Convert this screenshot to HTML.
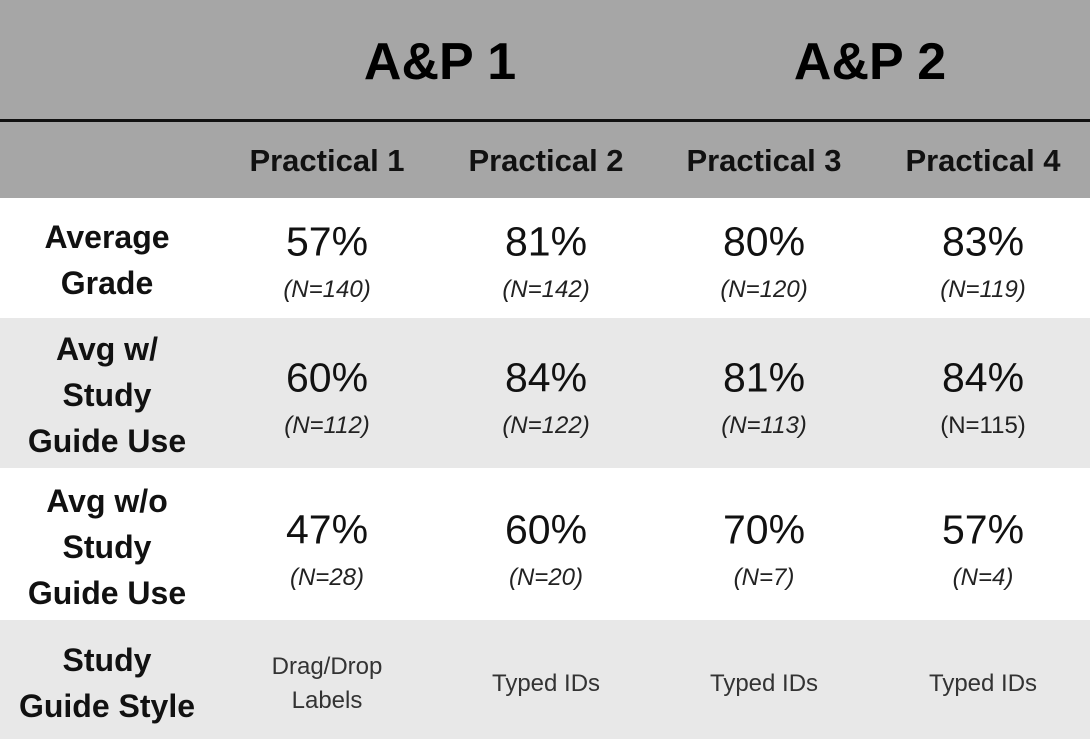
<!DOCTYPE html>
<html><head><meta charset="utf-8"><style>
body{margin:0;width:1090px;height:739px;overflow:hidden;background:#fff;font-family:"Liberation Sans",sans-serif;position:relative}
.b{position:absolute;left:0;width:1090px}
.t{position:absolute;transform:translate(-50%,-50%);white-space:nowrap;text-align:center;color:#111}
.h1{font-weight:bold;font-size:52px;color:#000}
.h2{font-weight:bold;font-size:31px;color:#111}
.lb{font-weight:bold;font-size:32px;line-height:46px}
.v{font-size:41px;color:#111}
.n{font-size:24px;font-style:italic;color:#222}
.s{font-size:24px;color:#333;line-height:34px}
</style></head><body>
<div class="b" style="top:0;height:120px;background:#a6a6a6"></div>
<div class="b" style="top:119px;height:3px;background:#111"></div>
<div class="b" style="top:122px;height:76px;background:#a6a6a6"></div>
<div class="b" style="top:318px;height:150px;background:#e8e8e8"></div>
<div class="b" style="top:620px;height:119px;background:#e8e8e8"></div>

<div class="t h1" style="left:440px;top:62px">A&amp;P 1</div>
<div class="t h1" style="left:870px;top:62px">A&amp;P 2</div>

<div class="t h2" style="left:327px;top:161px">Practical 1</div>
<div class="t h2" style="left:546px;top:161px">Practical 2</div>
<div class="t h2" style="left:764px;top:161px">Practical 3</div>
<div class="t h2" style="left:983px;top:161px">Practical 4</div>

<div class="t lb" style="left:107px;top:260px">Average<br>Grade</div>
<div class="t lb" style="left:107px;top:395px">Avg w/<br>Study<br>Guide Use</div>
<div class="t lb" style="left:107px;top:547px">Avg w/o<br>Study<br>Guide Use</div>
<div class="t lb" style="left:107px;top:683px">Study<br>Guide Style</div>

<div class="t v" style="left:327px;top:242px">57%</div><div class="t n" style="left:327px;top:290px">(N=140)</div>
<div class="t v" style="left:546px;top:242px">81%</div><div class="t n" style="left:546px;top:290px">(N=142)</div>
<div class="t v" style="left:764px;top:242px">80%</div><div class="t n" style="left:764px;top:290px">(N=120)</div>
<div class="t v" style="left:983px;top:242px">83%</div><div class="t n" style="left:983px;top:290px">(N=119)</div>

<div class="t v" style="left:327px;top:378px">60%</div><div class="t n" style="left:327px;top:426px">(N=112)</div>
<div class="t v" style="left:546px;top:378px">84%</div><div class="t n" style="left:546px;top:426px">(N=122)</div>
<div class="t v" style="left:764px;top:378px">81%</div><div class="t n" style="left:764px;top:426px">(N=113)</div>
<div class="t v" style="left:983px;top:378px">84%</div><div class="t n" style="left:983px;top:426px;font-style:normal">(N=115)</div>

<div class="t v" style="left:327px;top:530px">47%</div><div class="t n" style="left:327px;top:578px">(N=28)</div>
<div class="t v" style="left:546px;top:530px">60%</div><div class="t n" style="left:546px;top:578px">(N=20)</div>
<div class="t v" style="left:764px;top:530px">70%</div><div class="t n" style="left:764px;top:578px">(N=7)</div>
<div class="t v" style="left:983px;top:530px">57%</div><div class="t n" style="left:983px;top:578px">(N=4)</div>

<div class="t s" style="left:327px;top:684px">Drag/Drop<br>Labels</div>
<div class="t s" style="left:546px;top:684px">Typed IDs</div>
<div class="t s" style="left:764px;top:684px">Typed IDs</div>
<div class="t s" style="left:983px;top:684px">Typed IDs</div>
</body></html>
